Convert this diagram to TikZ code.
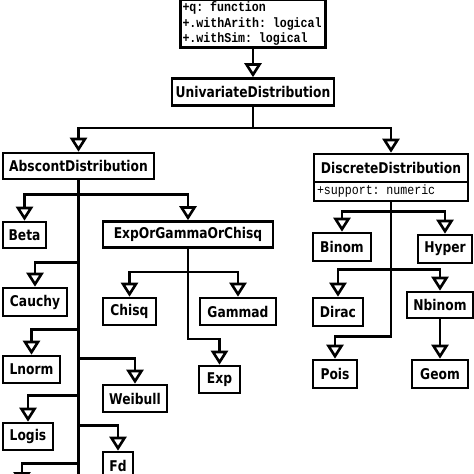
\documentclass[tikz,border=0pt]{standalone}
\usepackage{fontspec}
\newfontfamily\clsfont[FakeStretch=0.83]{DejaVu Sans}
\newfontfamily\attfont[FakeStretch=0.86]{Liberation Mono}
\usetikzlibrary{arrows.meta}

\tikzset{
    cls/.style={draw, line width=2.6pt, inner sep=0pt, minimum height=26pt, font=\clsfont\bfseries\fontsize{14.8}{16}\selectfont},
    attr/.style={cls, align=left, font=\attfont\fontsize{13.5}{15}\selectfont},
    inh/.style={line width=2.6pt, -{Triangle[open, length=14pt, width=17pt]}},
    trunk/.style={line width=2.6pt},
}

\begin{document}
\begin{tikzpicture}[x=1pt, y=-1pt]
    \useasboundingbox (0, 0) rectangle (474, 474);
    \clip (0, 0) rectangle (474, 474);

    \node[attr, anchor=south, minimum width=145pt, text width=141pt, inner xsep=2pt, inner ysep=2pt, font=\attfont\bfseries\fontsize{13.5}{15.5}\selectfont] (distr) at (253, 49) {+q: function\\+.withArith: logical\\+.withSim: logical};
    \node[cls, minimum width=162pt, minimum height=27pt] (univ) at (253, 92) {UnivariateDistribution};

    % absolutely continuous side
    \node[cls, minimum width=151pt] (abscont) at (78.5, 166) {AbscontDistribution};
    \node[cls, minimum width=43pt] (beta) at (24.5, 235) {Beta};
    \node[cls, minimum width=170pt] (expgc) at (188, 234.5) {ExpOrGammaOrChisq};
    \node[cls, minimum width=64pt, minimum height=28pt] (cauchy) at (35, 302) {Cauchy};
    \node[cls, minimum width=57pt, minimum height=27pt] (lnorm) at (31.5, 369.5) {Lnorm};
    \node[cls, minimum width=64pt, minimum height=27pt] (weibull) at (135, 398.5) {Weibull};
    \node[cls, minimum width=50pt, minimum height=27pt] (logis) at (28, 436.5) {Logis};
    \node[cls, minimum width=30pt, minimum height=28pt] (fd) at (118, 466) {Fd};
    \node[cls, minimum width=53pt, minimum height=27pt] (chisq) at (129.5, 311.5) {Chisq};
    \node[cls, minimum width=76pt, minimum height=27pt] (gammad) at (238, 311.5) {Gammad};
    \node[cls, minimum width=41pt, minimum height=27pt] (exp) at (219.5, 379.5) {Exp};
    \coordinate (trunkend) at (78.5, 480);
    \coordinate (more) at (22, 486);

    % discrete side
    \node[cls, minimum width=154pt, minimum height=28pt] (discrete) at (391, 168) {DiscreteDistribution};
    \node[attr, anchor=north, yshift=2.6pt, minimum width=154pt, minimum height=19pt, text width=148pt] (discattr) at (discrete.south) {+support: numeric};
    \node[cls, minimum width=58pt, minimum height=28pt] (binom) at (342, 247) {Binom};
    \node[cls, minimum width=54pt, minimum height=28pt] (hyper) at (445, 249) {Hyper};
    \node[cls, minimum width=50pt, minimum height=28pt] (dirac) at (338, 312) {Dirac};
    \node[cls, minimum width=66pt] (nbinom) at (440, 305) {Nbinom};
    \node[cls, minimum width=44pt, minimum height=28pt] (pois) at (335, 374) {Pois};
    \node[cls, minimum width=56pt, minimum height=28pt] (geom) at (440, 374) {Geom};

    \draw[inh] (distr.south) -- (univ.north);
    \draw[inh] (univ.south) -- ++(0, 21) -| (abscont.north);
    \draw[inh] (univ.south) -- ++(0, 21) -| (discrete.north);

    \draw[trunk] (abscont.south) -- (trunkend);
    \draw[inh] (abscont.south) -- ++(0, 14) -| (beta.north);
    \draw[inh] (abscont.south) -- ++(0, 14) -| (expgc.north);
    \draw[inh] (abscont.south) -- ++(0, 82) -| (cauchy.north);
    \draw[inh] (abscont.south) -- ++(0, 149) -| (lnorm.north);
    \draw[inh] (abscont.south) -- ++(0, 178) -| (weibull.north);
    \draw[inh] (abscont.south) -- ++(0, 215) -| (logis.north);
    \draw[inh] (abscont.south) -- ++(0, 245) -| (fd.north);
    \draw[inh] (abscont.south) -- ++(0, 283) -| (more);

    \draw[inh] (expgc.south) -- ++(0, 23) -| (chisq.north);
    \draw[inh] (expgc.south) -- ++(0, 23) -| (gammad.north);
    \draw[inh] (expgc.south) -- ++(0, 90) -| (exp.north);

    \draw[inh] (discattr.south) -- ++(0, 9) -| (binom.north);
    \draw[inh] (discattr.south) -- ++(0, 9) -| (hyper.north);
    \draw[inh] (discattr.south) -- ++(0, 67) -| (dirac.north);
    \draw[inh] (discattr.south) -- ++(0, 67) -| (nbinom.north);
    \draw[inh] (discattr.south) -- ++(0, 134) -| (pois.north);
    \draw[inh] (nbinom.south) -- (geom.north);

\end{tikzpicture}
\end{document}
